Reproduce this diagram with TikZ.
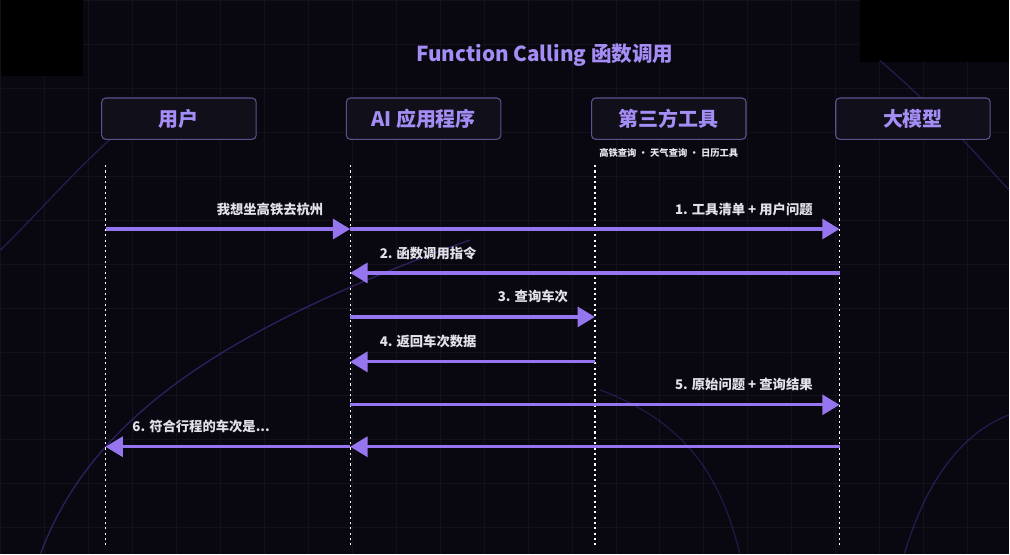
\documentclass[tikz,border=0pt]{standalone}
\usepackage{fontspec}
\setmainfont{Noto Sans CJK SC}
\usetikzlibrary{arrows.meta, positioning, backgrounds}
\definecolor{bgdark}{HTML}{09070F}
\definecolor{gridline}{HTML}{13111A}
\definecolor{violet}{HTML}{9676EE}
\definecolor{titleviolet}{HTML}{A58DF6}
\definecolor{boxfill}{HTML}{110F19}
\definecolor{boxedge}{HTML}{5E5190}
\definecolor{labelgray}{HTML}{E2E0E8}
\definecolor{glow}{HTML}{5B3FC0}

\begin{document}
\begin{tikzpicture}[
  x=0.75pt, y=-0.75pt,
  %--- shared styles ----------------------------------------------
  actor/.style={
    rectangle, draw=boxedge, fill=boxfill, rounded corners=3pt,
    line width=0.8pt, minimum width=116pt, minimum height=31pt,
    font=\bfseries\fontsize{15}{18}\selectfont, text=titleviolet
  },
  lifeline/.style={draw=white!60, line width=1pt,
    dash pattern=on 1.6pt off 2.4pt},
  msg/.style={-{Triangle[length=13pt, width=15pt]}, line width=2.4pt,
    color=violet},
  lbl/.style={font=\bfseries\fontsize{10}{12}\selectfont,
    text=labelgray, inner sep=0pt},
  subnote/.style={font=\bfseries\fontsize{7}{8}\selectfont,
    text=labelgray!85, inner sep=0pt},
]

%% --- background -------------------------------------------------
\fill[bgdark] (0,0) rectangle (1010,554);
\draw[gridline, line width=0.5pt, step=33pt] (0,0) grid (1010,554);
\fill[black] (0,0) rectangle (82,76);
\fill[black] (860,0) rectangle (1010,62);
\draw[glow, opacity=0.45, line width=1pt] (40,554) .. controls (90,420) and (220,330) .. (470,240);
\draw[glow, opacity=0.35, line width=1pt] (0,250) .. controls (60,190) and (100,140) .. (160,100);
\draw[glow, opacity=0.35, line width=1pt] (905,554) .. controls (930,470) and (970,430) .. (1010,415);
\draw[glow, opacity=0.35, line width=1pt] (880,60) .. controls (950,120) and (990,170) .. (1010,190);
\draw[glow, opacity=0.30, line width=1pt] (600,390) .. controls (680,420) and (720,470) .. (740,554);

%% --- title ------------------------------------------------------
\node[font=\bfseries\fontsize{15.5}{18}\selectfont, text=titleviolet]
  (title) at (545,55) {Function Calling 函数调用};

%% --- participants -----------------------------------------------
\node[actor] (user) at (178.5,118.5) {用户};
\node[actor] (app)  at (423.5,118.5) {AI 应用程序};
\node[actor] (tool) at (669,118.5)   {第三方工具};
\node[actor] (llm)  at (913.5,118.5) {大模型};
\node[subnote, below=6.5pt of tool] (toolnote)
  {高铁查询 · 天气查询 · 日历工具};

%% --- lifelines --------------------------------------------------
\coordinate (userTop) at (105,165);
\coordinate (appTop)  at (350,165);
\coordinate (toolTop) at (595,165);
\coordinate (llmTop)  at (840,165);
\coordinate (bottom)  at (0,548);
\foreach \p in {userTop, appTop, toolTop, llmTop}
  \draw[lifeline] (\p) -- (\p |- bottom);

%% --- message rows -----------------------------------------------
\coordinate (m1) at (0,229);
\coordinate (m2) at (0,273);
\coordinate (m3) at (0,317);
\coordinate (m4) at (0,362);
\coordinate (m5) at (0,405);
\coordinate (m6) at (0,447);

%% --- messages ---------------------------------------------------
% user -> app, app -> llm
\draw[msg] (userTop |- m1) -- (appTop |- m1)
  node[lbl, above left=9pt and 19pt] {我想坐高铁去杭州};
\draw[msg] (appTop |- m1) -- (llmTop |- m1)
  node[lbl, above left=9pt and 19pt] {1. 工具清单 + 用户问题};
% llm -> app
\draw[msg] (llmTop |- m2) -- (appTop |- m2)
  node[lbl, above right=9pt and 21pt] {2. 函数调用指令};
% app -> tool
\draw[msg] (appTop |- m3) -- (toolTop |- m3)
  node[lbl, above left=9pt and 19pt] {3. 查询车次};
% tool -> app
\draw[msg] (toolTop |- m4) -- (appTop |- m4)
  node[lbl, above right=9pt and 21pt] {4. 返回车次数据};
% app -> llm
\draw[msg] (appTop |- m5) -- (llmTop |- m5)
  node[lbl, above left=9pt and 19pt] {5. 原始问题 + 查询结果};
% llm -> app -> user
\draw[msg] (llmTop |- m6) -- (appTop |- m6);
\draw[msg] (appTop |- m6) -- (userTop |- m6)
  node[lbl, above right=9pt and 19pt] {6. 符合行程的车次是...};

\end{tikzpicture}
\end{document}
